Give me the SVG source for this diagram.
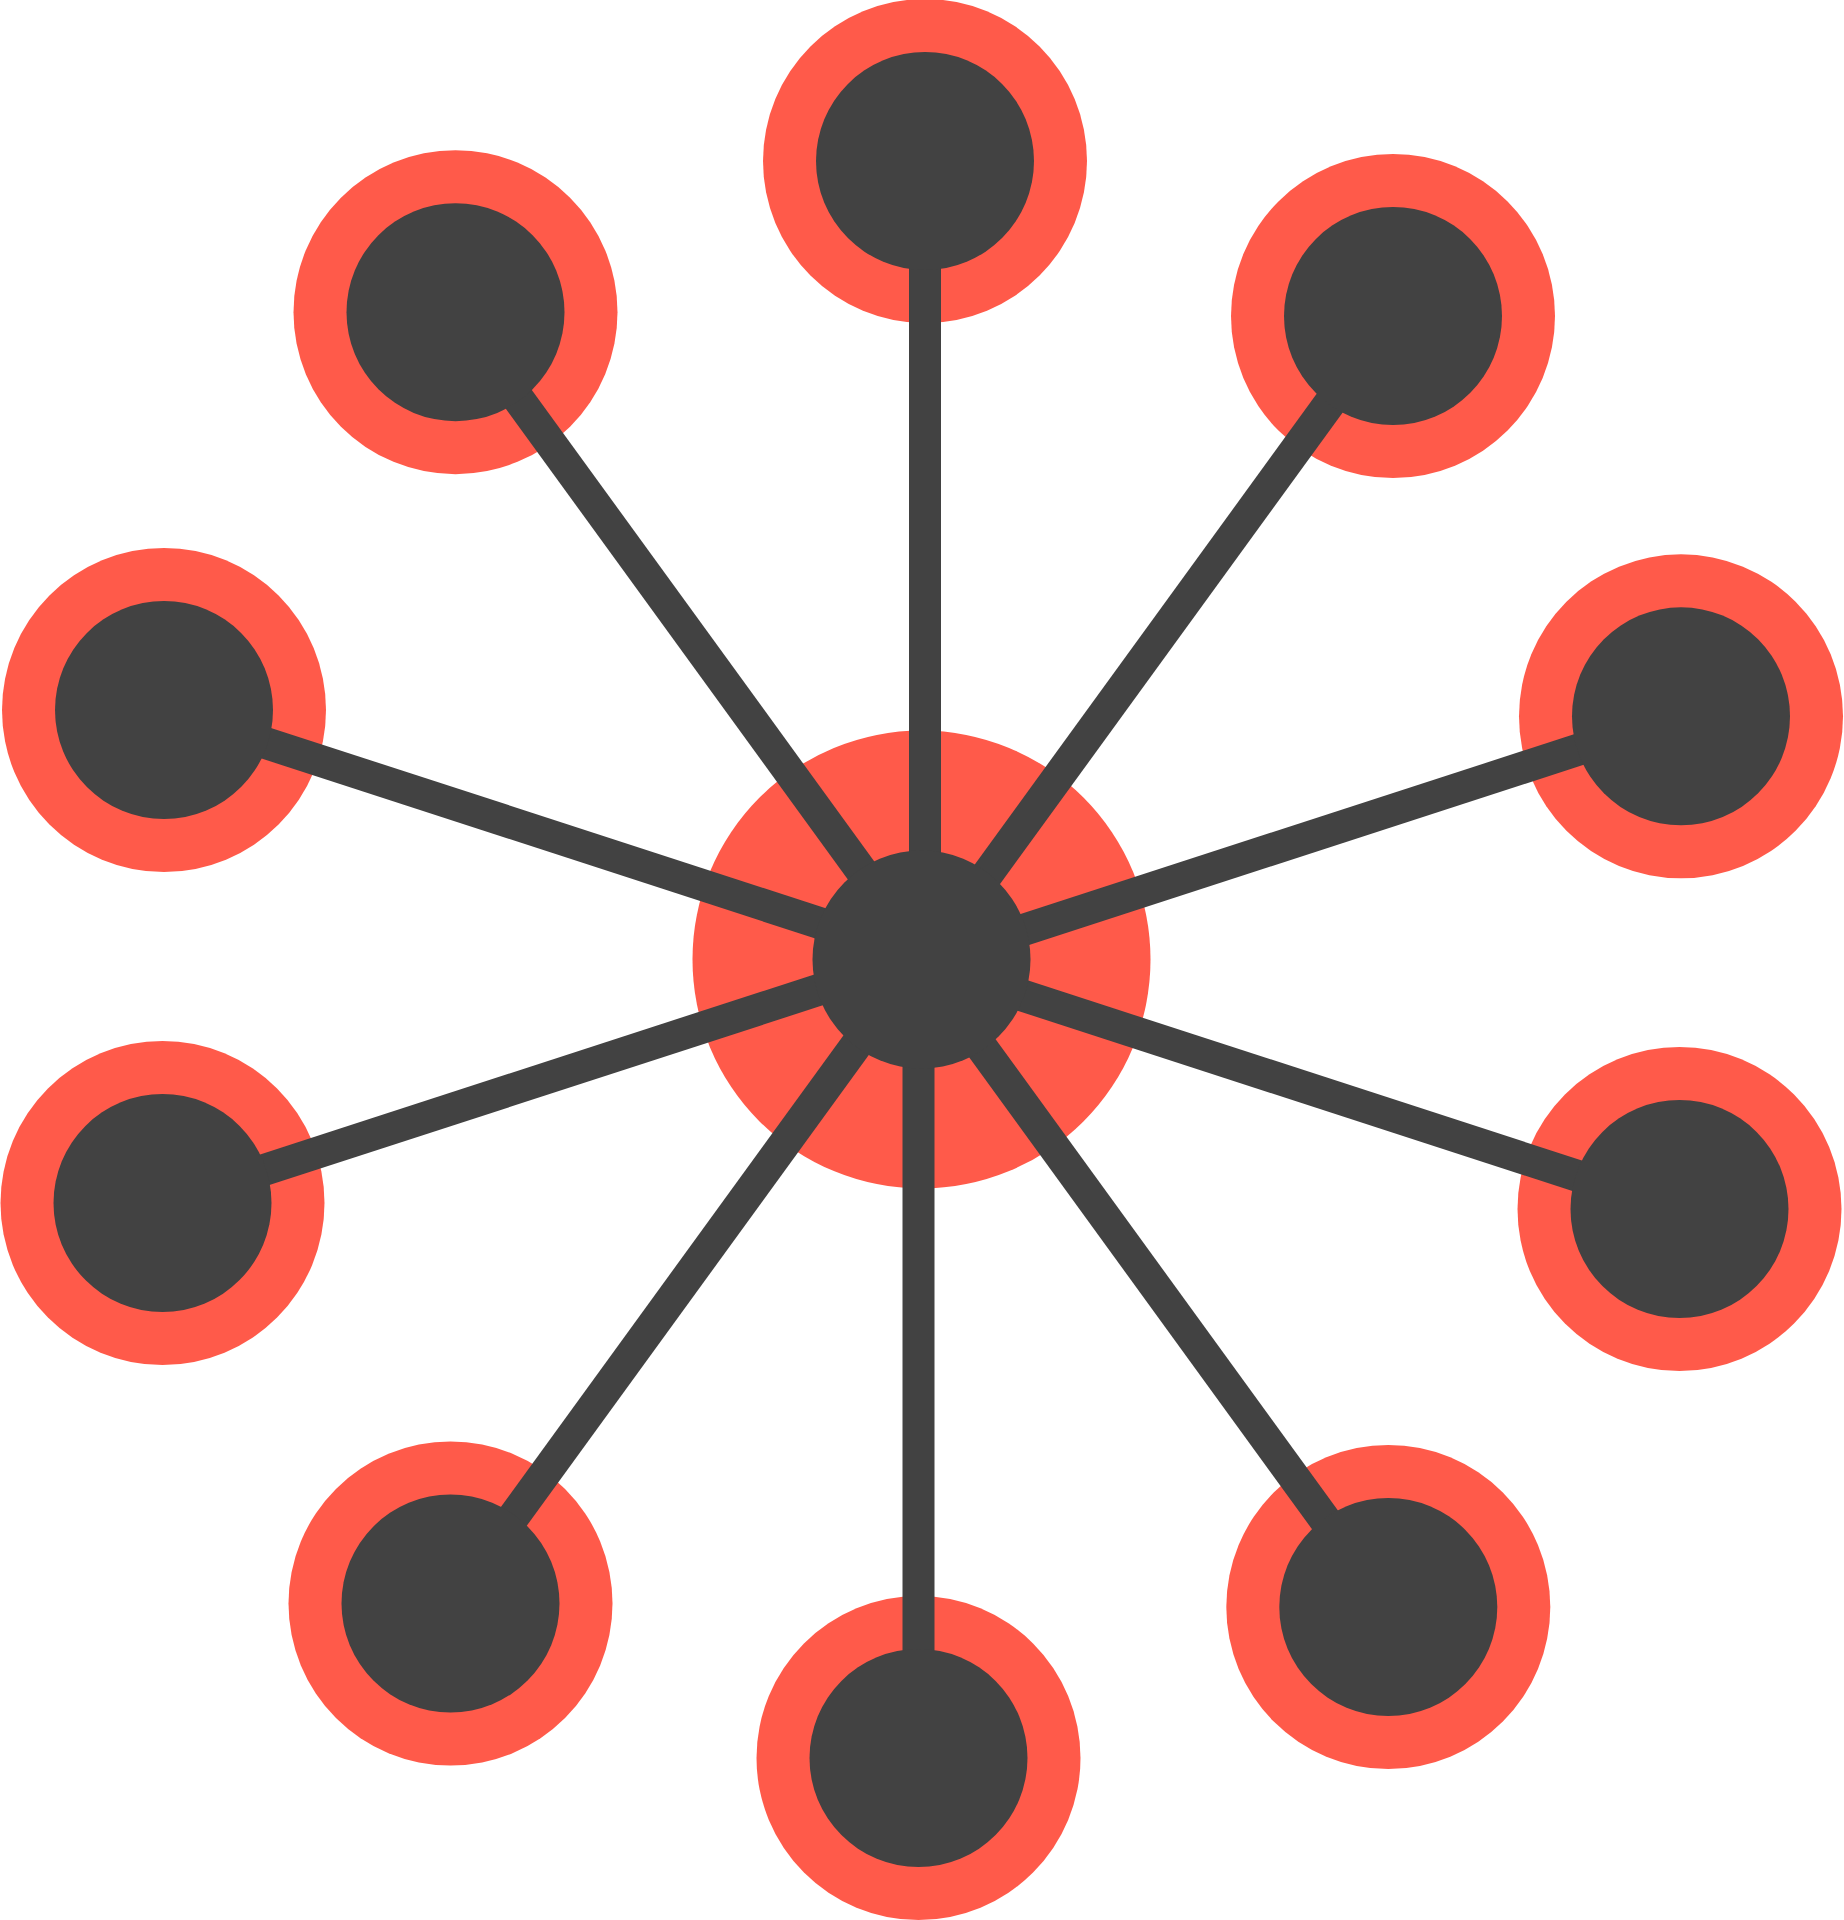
<svg xmlns="http://www.w3.org/2000/svg" width="1844" height="1920" viewBox="0 0 1844 1920">
<style>
.ring{fill:#FF5A4A}
.core{fill:#424242}
.link{stroke:#424242;stroke-width:32;stroke-linecap:butt;fill:none}
</style>
<rect width="1844" height="1920" fill="#FFFFFF"/>
<g id="rings">
<circle class="ring" cx="921.5" cy="959.5" r="229"/>
<circle class="ring" cx="925" cy="161" r="162"/>
<circle class="ring" cx="1393" cy="316" r="162"/>
<circle class="ring" cx="1681" cy="716.3" r="162"/>
<circle class="ring" cx="1679.5" cy="1209" r="162"/>
<circle class="ring" cx="1388.3" cy="1607" r="162"/>
<circle class="ring" cx="918.5" cy="1758" r="162"/>
<circle class="ring" cx="450.5" cy="1603.5" r="162"/>
<circle class="ring" cx="162.5" cy="1203" r="162"/>
<circle class="ring" cx="164" cy="710" r="162"/>
<circle class="ring" cx="455.5" cy="312.2" r="162"/>
</g>
<g id="connectors">
<line class="link" x1="925" y1="161" x2="925" y2="959"/>
<line class="link" x1="1393" y1="316" x2="923.95" y2="961.6"/>
<line class="link" x1="1681" y1="716.3" x2="922.06" y2="962.9"/>
<line class="link" x1="1679.5" y1="1209" x2="920.56" y2="962.4"/>
<line class="link" x1="1388.3" y1="1607" x2="919.25" y2="961.4"/>
<line class="link" x1="918.5" y1="1758" x2="918.5" y2="960"/>
<line class="link" x1="450.5" y1="1603.5" x2="919.55" y2="957.9"/>
<line class="link" x1="162.5" y1="1203" x2="921.44" y2="956.4"/>
<line class="link" x1="164" y1="710" x2="922.94" y2="956.6"/>
<line class="link" x1="455.5" y1="312.2" x2="924.55" y2="957.8"/>
</g>
<g id="hub"><circle class="core" cx="921.5" cy="959.5" r="109"/></g>
<g id="n1"><circle class="core" cx="925" cy="161" r="109"/></g>
<g id="n2"><circle class="core" cx="1393" cy="316" r="109"/></g>
<g id="n3"><circle class="core" cx="1681" cy="716.3" r="109"/></g>
<g id="n4"><circle class="core" cx="1679.5" cy="1209" r="109"/></g>
<g id="n5"><circle class="core" cx="1388.3" cy="1607" r="109"/></g>
<g id="n6"><circle class="core" cx="918.5" cy="1758" r="109"/></g>
<g id="n7"><circle class="core" cx="450.5" cy="1603.5" r="109"/></g>
<g id="n8"><circle class="core" cx="162.5" cy="1203" r="109"/></g>
<g id="n9"><circle class="core" cx="164" cy="710" r="109"/></g>
<g id="n10"><circle class="core" cx="455.5" cy="312.2" r="109"/></g>
</svg>
